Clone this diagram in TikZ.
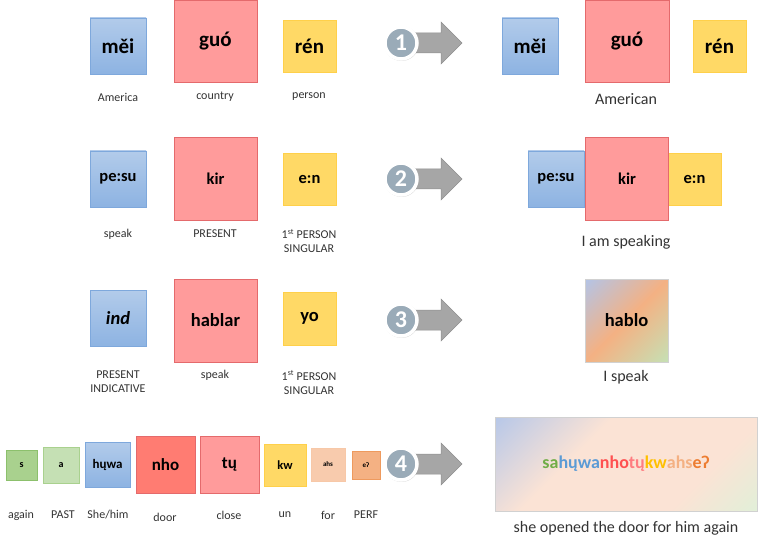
\documentclass[tikz,border=0pt]{standalone}
\usepackage{fontspec}
\setmainfont{Carlito}
\usetikzlibrary{shadows}
\definecolor{blueT}{HTML}{B2CBEA}
\definecolor{blueBt}{HTML}{8DB3E2}
\definecolor{blueD}{HTML}{7EA8DC}
\definecolor{redF}{HTML}{FF9B9B}
\definecolor{redD}{HTML}{E46A6C}
\definecolor{red2F}{HTML}{FF7C72}
\definecolor{yelF}{HTML}{FFD966}
\definecolor{yelD}{HTML}{FFD04A}
\definecolor{grnF}{HTML}{A9D18E}
\definecolor{grnD}{HTML}{8CC06C}
\definecolor{lgrnF}{HTML}{C5E0B4}
\definecolor{lgrnD}{HTML}{A9D18E}
\definecolor{peachF}{HTML}{F8CBAD}
\definecolor{peachD}{HTML}{F4B183}
\definecolor{orF}{HTML}{F4B183}
\definecolor{orD}{HTML}{EE9A5E}
\definecolor{labelc}{HTML}{333333}
\definecolor{arrowF}{HTML}{A6A6A6}
\definecolor{arrowD}{HTML}{8F8F8F}
\definecolor{numF}{HTML}{9AABB8}
\definecolor{hg}{HTML}{C6E0B4}
\definecolor{ho}{HTML}{F4B183}
\definecolor{hb}{HTML}{B4C4E6}
\definecolor{gg}{HTML}{E2EFD8}
\definecolor{pp}{HTML}{FBE3D5}
\definecolor{bb}{HTML}{B8C8E8}
\definecolor{tA}{HTML}{70AD47}
\definecolor{tB}{HTML}{5B9BD5}
\definecolor{tC}{HTML}{FF5050}
\definecolor{tD}{HTML}{FF7C80}
\definecolor{tE}{HTML}{FFC000}
\definecolor{tF}{HTML}{F4B183}
\definecolor{tG}{HTML}{ED7D31}
\pgfdeclareverticalshading{hablosh}{100bp}{color(0bp)=(hg); color(15bp)=(hg); color(50bp)=(ho); color(85bp)=(hb); color(100bp)=(hb)}
\pgfdeclareverticalshading{bigsh}{100bp}{color(0bp)=(gg); color(15bp)=(gg); color(32bp)=(pp); color(62bp)=(pp); color(85bp)=(bb); color(100bp)=(bb)}
\tikzset{
  box/.style={draw, line width=0.8pt, inner sep=0pt, font=\bfseries, text=black},
  bluebox/.style={box, draw=blueD, top color=blueT, bottom color=blueBt},
  redbox/.style={box, draw=redD, fill=redF},
  yelbox/.style={box, draw=yelD, fill=yelF},
  sq/.style={minimum width=#1pt, minimum height=#1pt},
  lbl/.style={font=\fontsize{12}{14}\selectfont, text=labelc, align=center, inner sep=0pt},
  rlbl/.style={font=\fontsize{16}{19}\selectfont, text=labelc, align=center, inner sep=0pt},
  numc/.style={circle, fill=numF, draw=white, line width=3.5pt, minimum size=32pt, inner sep=0pt,
    text=white, font=\bfseries\fontsize{24}{24}\selectfont,
    drop shadow={opacity=0.3, shadow scale=1.09, shadow xshift=0.5pt, shadow yshift=-0.5pt}},
  bigarrow/.style={fill=arrowF, draw=arrowD, line width=0.5pt}
}
\begin{document}
\begin{tikzpicture}[x=1pt, y=-1pt]
\useasboundingbox (0,0) rectangle (768,548);
% ---------- Row 1 ----------
\node[bluebox, sq=56, font=\bfseries\fontsize{21}{21}\selectfont] (mei) at (118,46) {měi};
\node[redbox, minimum width=83pt, minimum height=82pt, font=\bfseries\fontsize{21}{21}\selectfont] (guo) at (215.5,41.5) {guó};
\node[yelbox, minimum width=53pt, minimum height=52pt, font=\bfseries\fontsize{21}{21}\selectfont] (ren) at (309.5,46) {rén};
\node[lbl] (lmei) at (118,97) {America};
\node[lbl] (lguo) at (215,97) {country};
\node[lbl] (lren) at (309,97) {person};
\node[bluebox, sq=56, font=\bfseries\fontsize{21}{21}\selectfont] (mei2) at (530,46) {měi};
\node[redbox, minimum width=84pt, minimum height=82pt, font=\bfseries\fontsize{21}{21}\selectfont] (guo2) at (627,41.5) {guó};
\node[yelbox, minimum width=53pt, minimum height=52pt, font=\bfseries\fontsize{21}{21}\selectfont] (ren2) at (719.5,46) {rén};
\node[rlbl] (r1) at (626,99) {American};
% ---------- Row 2 ----------
\node[bluebox, sq=56, font=\bfseries\fontsize{16.5}{16.5}\selectfont] (pesu) at (118,179) {pe:su};
\node[redbox, sq=83, font=\bfseries\fontsize{16.5}{16.5}\selectfont] (kir) at (215.5,178.5) {kir};
\node[yelbox, minimum width=53pt, minimum height=52pt, font=\bfseries\fontsize{16.5}{16.5}\selectfont] (en) at (309.5,179) {e:n};
\node[lbl] (lpesu) at (118,234) {speak};
\node[lbl] (lkir) at (215,234) {PRESENT};
\node[lbl] (len) at (309,241) {1\textsuperscript{st} PERSON\\SINGULAR};
\node[bluebox, sq=56, font=\bfseries\fontsize{16.5}{16.5}\selectfont] (pesu2) at (556,179) {pe:su};
\node[yelbox, minimum width=53pt, minimum height=52pt, font=\bfseries\fontsize{16.5}{16.5}\selectfont] (en2) at (694.5,179) {e:n};
\node[redbox, sq=83, font=\bfseries\fontsize{16.5}{16.5}\selectfont] (kir2) at (627,178.5) {kir};
\node[rlbl] (r2) at (626,242) {I am speaking};
% ---------- Row 3 ----------
\node[bluebox, sq=56, font=\bfseries\itshape\fontsize{18.5}{18.5}\selectfont] (ind) at (118,318.5) {ind};
\node[redbox, sq=83, font=\bfseries\fontsize{18.5}{18.5}\selectfont] (hablar) at (215.5,320.5) {hablar};
\node[yelbox, sq=53, font=\bfseries\fontsize{18.5}{18.5}\selectfont] (yo) at (309.5,318.5) {yo};
\node[lbl] (lind) at (118,382) {PRESENT\\INDICATIVE};
\node[lbl] (lhablar) at (215,375) {speak};
\node[lbl] (lyo) at (309,382.5) {1\textsuperscript{st} PERSON\\SINGULAR};
\node[box, draw=black!18, line width=0.6pt, sq=83, shading=hablosh, shading angle=45, font=\bfseries\fontsize{18.5}{18.5}\selectfont] (hablo) at (626.5,320.5) {hablo};
\node[rlbl] (r3) at (626,377) {I speak};
% ---------- Row 4 ----------
\node[box, draw=grnD, fill=grnF, minimum width=31pt, minimum height=30pt, font=\bfseries\fontsize{10}{10}\selectfont] (s) at (21.5,465) {s};
\node[box, draw=lgrnD, fill=lgrnF, sq=36, font=\bfseries\fontsize{10}{10}\selectfont] (a) at (61,465) {a};
\node[bluebox, sq=45, font=\bfseries\fontsize{13}{13}\selectfont] (huwa) at (107.5,464.5) {hųwa};
\node[box, draw=redD, fill=red2F, minimum width=59pt, minimum height=57pt, font=\bfseries\fontsize{17}{17}\selectfont] (nho) at (165.5,464.5) {nho};
\node[redbox, minimum width=59pt, minimum height=57pt, font=\bfseries\fontsize{17}{17}\selectfont] (tu) at (229.5,464.5) {tų};
\node[yelbox, sq=42, font=\bfseries\fontsize{12.5}{12.5}\selectfont] (kw) at (285,465) {kw};
\node[box, draw=peachD!70, fill=peachF, minimum width=34pt, minimum height=33pt, font=\bfseries\fontsize{7}{7}\selectfont] (ahs) at (328,464.5) {ahs};
\node[box, draw=orD, fill=orF, sq=28, font=\bfseries\fontsize{7}{7}\selectfont] (e) at (366,465) {eʔ};
\node[lbl] (ls) at (21,515) {again};
\node[lbl] (la) at (63,515) {PAST};
\node[lbl] (lhuwa) at (108,515) {She/him};
\node[lbl] (lnho) at (165,517) {door};
\node[lbl] (ltu) at (229,515) {close};
\node[lbl] (lkw) at (285,515) {un};
\node[lbl] (lahs) at (328,515) {for};
\node[lbl] (le) at (366,515) {PERF};
\node[box, draw=black!18, line width=0.6pt, minimum width=262pt, minimum height=94pt, shading=bigsh, shading angle=45, font=\bfseries\fontsize{18}{18}\selectfont] (big) at (626,464) {{\color{tA}sa}{\color{tB}hųwa}{\color{tC}nho}{\color{tD}tų}{\color{tE}kw}{\color{tF}ahs}{\color{tG}eʔ}};
\node[rlbl] (r4) at (626,528) {she opened the door for him again};
% ---------- Arrows ----------
\foreach \n/\y in {1/43,2/179,3/320,4/464}{
  \draw[bigarrow] (405,\y-10) -- (441,\y-10) -- (441,\y-21) -- (462,\y) -- (441,\y+21) -- (441,\y+10) -- (405,\y+10) -- cycle;
  \node[numc] (n\n) at (401,\y) {\n};
}
\end{tikzpicture}
\end{document}
